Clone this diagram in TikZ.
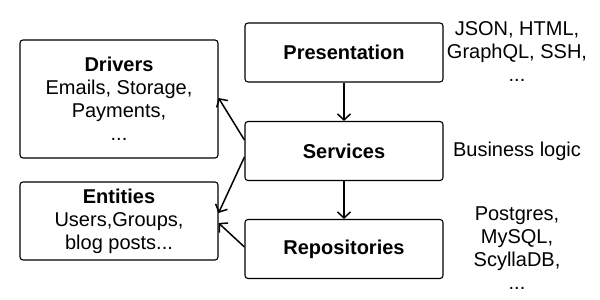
\documentclass[tikz,border=0pt]{standalone}
\usepackage{fontspec}
\setmainfont{Liberation Sans}
\usetikzlibrary{positioning,arrows.meta}
\tikzset{
  layer/.style ={draw, rounded corners=3pt, line width=1.1pt, align=center,
                 minimum width=198pt, minimum height=59pt, inner sep=0pt,
                 font=\fontsize{20}{23}\selectfont\bfseries},
  side/.style  ={draw, rounded corners=3pt, line width=1.1pt, align=center,
                 minimum width=198pt, inner sep=0pt,
                 font=\fontsize{20}{23}\selectfont},
  note/.style  ={align=center, inner sep=0pt, font=\fontsize{20}{23}\selectfont},
  link/.style  ={line width=1.5pt, -{Straight Barb[length=6pt,width=13pt]}},
}
\begin{document}
\begin{tikzpicture}[x=1pt,y=-1pt]
\useasboundingbox (0,0) rectangle (600,300);
% --- the three layers ---
\node[layer] (pres) at (344,52.5) {Presentation};
\node[layer] (serv) at (344,151) {Services};
\node[layer] (repo) at (344,249) {Repositories};
% --- what they lean on ---
\node[side,minimum height=118pt] (drv) at (119,99)
  {\textbf{Drivers}\\Emails, Storage,\\Payments,\\...};
\node[side,minimum height=78pt] (ent) at (119,221)
  {\textbf{Entities}\\Users,Groups,\\blog posts...};
% --- notes on the right ---
\node[note] (fmt) at (517,52) {JSON, HTML,\\GraphQL, SSH,\\...};
\node[note] (biz) at (517,151) {Business logic};
\node[note] (dbs) at (517,248.5) {Postgres,\\MySQL,\\ScyllaDB,\\...};
% --- calls ---
\draw[link] (pres) -- (serv);
\draw[link] (serv) -- (repo);
\draw[link] ([yshift=11pt]serv.west) -- ([yshift=1pt]drv.east);
\draw[link] ([yshift=-6pt]serv.west) -- ([yshift=8pt]ent.east);
\draw[link] ([yshift=2pt]repo.west) -- ([yshift=-2pt]ent.east);
\end{tikzpicture}
\end{document}
